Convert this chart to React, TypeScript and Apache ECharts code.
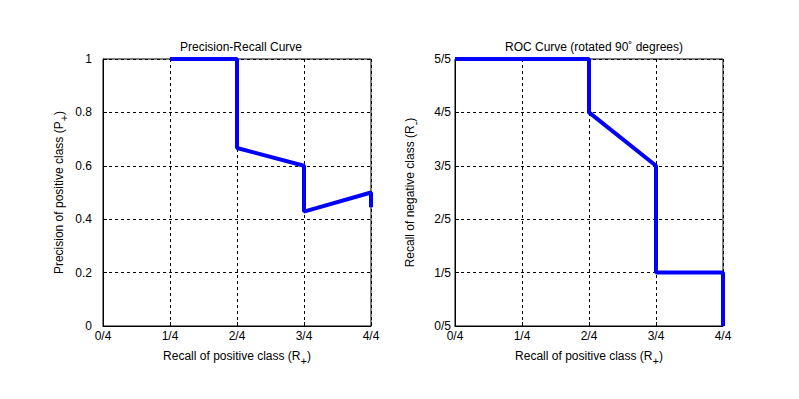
import React, { useEffect, useRef } from "react";
import * as echarts from "echarts";

const prRecall = [0.25, 0.5, 0.5, 0.75, 0.75, 1.0, 1.0];
const prPrecision = [1.0, 1.0, 0.6667, 0.6, 0.4286, 0.5, 0.4444];

const rocPosRecall = [0.0, 0.5, 0.5, 0.75, 0.75, 1.0, 1.0];
const rocNegRecall = [1.0, 1.0, 0.8, 0.6, 0.2, 0.2, 0.0];

const xTickLabels = ["0/4", "1/4", "2/4", "3/4", "4/4"];
const prYTickLabels = ["0", "0.2", "0.4", "0.6", "0.8", "1"];
const rocYTickLabels = ["0/5", "1/5", "2/5", "3/5", "4/5", "5/5"];

const FONT = "Liberation Sans, Arial, sans-serif";

export default function App() {
  const ref = useRef<HTMLDivElement>(null);
  useEffect(() => {
    if (!ref.current) return;
    const chart = echarts.init(ref.current, undefined, { renderer: "svg" });
    const txt = { color: "#000", fontFamily: FONT, fontSize: 12 };
    const rich = {
      a: { color: "#000", fontFamily: FONT, fontSize: 12 },
      s: { color: "#000", fontFamily: FONT, fontSize: 11, padding: [9, 0, 0, 0] },
    };
    const splitLine = { show: true, lineStyle: { color: "#000", type: [3, 3] as any, width: 1 } };
    const axisLine = { show: true, onZero: false, lineStyle: { color: "#000", width: 1 } };
    const axisTick = { show: true, inside: true, length: 4, lineStyle: { color: "#000" } };
    const xAxisBase = (gridIndex: number) => ({
      type: "value",
      gridIndex,
      min: 0,
      max: 1,
      interval: 0.25,
      name: "{a|Recall of positive class (R}{s|+}{a|)}",
      nameLocation: "middle",
      nameGap: 20,
      nameTextStyle: { ...txt, rich },
      axisLine,
      axisTick,
      splitLine,
      axisLabel: {
        ...txt,
        margin: 4,
        formatter: (v: number) => xTickLabels[Math.round(v * 4)],
      },
    });
    chart.setOption({
      animation: false,
      backgroundColor: "#fff",
      title: [
        { text: "Precision-Recall Curve", left: 236, top: 36, textAlign: "center", textStyle: { ...txt, fontWeight: "normal" } },
        { text: "ROC Curve (rotated 90\u02DA degrees)", left: 589, top: 36, textAlign: "center", textStyle: { ...txt, fontWeight: "normal" } },
      ],
      grid: [
        { left: 103, top: 59, width: 268, height: 267, show: true, borderColor: "#000", borderWidth: 1, backgroundColor: "#fff" },
        { left: 455, top: 59, width: 268, height: 267, show: true, borderColor: "#000", borderWidth: 1, backgroundColor: "#fff" },
      ],
      xAxis: [xAxisBase(0), xAxisBase(1)],
      yAxis: [
        {
          type: "value",
          gridIndex: 0,
          min: 0,
          max: 1,
          interval: 0.2,
          name: "{a|Precision of positive class (P}{s|+}{a|)}",
          nameLocation: "middle",
          nameGap: 34,
          nameRotate: 90,
          nameTextStyle: { ...txt, rich },
          axisLine,
          axisTick,
          splitLine,
          axisLabel: { ...txt, margin: 11, formatter: (v: number) => prYTickLabels[Math.round(v * 5)] },
        },
        {
          type: "value",
          gridIndex: 1,
          min: 0,
          max: 1,
          interval: 0.2,
          name: "{a|Recall of negative class (R}{s|-}{a|)}",
          nameLocation: "middle",
          nameGap: 35,
          nameRotate: 90,
          nameTextStyle: { ...txt, rich },
          axisLine,
          axisTick,
          splitLine,
          axisLabel: { ...txt, margin: 4, formatter: (v: number) => rocYTickLabels[Math.round(v * 5)] },
        },
      ],
      series: [
        {
          type: "line",
          xAxisIndex: 0,
          yAxisIndex: 0,
          data: prRecall.map((r, i) => [r, prPrecision[i]]),
          showSymbol: false,
          clip: true,
          lineStyle: { color: "#0000FF", width: 4 },
        },
        {
          type: "line",
          xAxisIndex: 1,
          yAxisIndex: 1,
          data: rocPosRecall.map((r, i) => [r, rocNegRecall[i]]),
          showSymbol: false,
          clip: true,
          lineStyle: { color: "#0000FF", width: 4 },
        },
      ],
    });
    return () => chart.dispose();
  }, []);
  return <div ref={ref} style={{ position: "fixed", left: 0, top: 0, width: 799, height: 399 }} />;
}
